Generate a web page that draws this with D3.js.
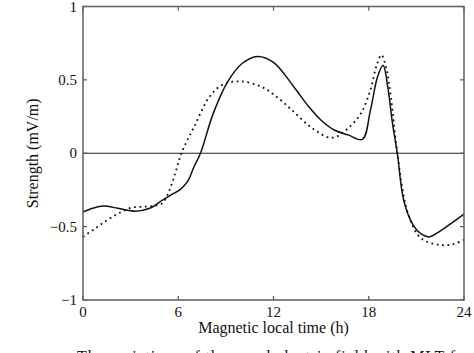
<!DOCTYPE html>
<html>
<head>
<meta charset="utf-8">
<script src="https://cdn.jsdelivr.net/npm/d3@7"></script>
<style>
  body { margin: 0; background: #fff; }
  svg { display: block; font-family: "Liberation Serif", "Times New Roman", serif; }
  .tick-label { font-size: 15px; fill: #111; }
  .axis-title { font-size: 16px; fill: #111; }
</style>
</head>
<body>
<div id="chart"></div>
<script>
// values (time in h, strength in mV/m)
let solidTime = [0, 0.6, 1.3, 2.2, 3.3, 4.2, 5.0, 5.6, 6.1, 6.6, 7.0, 7.4, 8.2, 9.1, 10.0, 11.0, 12.0, 13.3, 14.2, 15.0, 15.8, 16.7, 17.6, 18.1, 18.55, 18.9, 19.2, 19.5, 19.8, 20.2, 20.8, 21.3, 21.8, 22.5, 23.3, 24];
let solidValue = [-0.40, -0.375, -0.36, -0.375, -0.395, -0.375, -0.32, -0.28, -0.25, -0.19, -0.09, 0.0, 0.27, 0.485, 0.61, 0.66, 0.62, 0.45, 0.32, 0.225, 0.16, 0.125, 0.095, 0.29, 0.52, 0.60, 0.45, 0.2, 0.0, -0.32, -0.49, -0.55, -0.57, -0.53, -0.47, -0.415];

let dottedTime = [0, 0.8, 1.6, 2.4, 3.1, 3.8, 4.4, 5.0, 5.3, 5.8, 6.2, 7.0, 8.0, 8.85, 9.9, 11.2, 12.25, 13.3, 14.2, 14.8, 15.4, 15.9, 16.7, 17.5, 18.1, 18.5, 18.8, 19.1, 19.4, 19.8, 20.5, 21.3, 22.5, 23.3, 24];
let dottedValue = [-0.57, -0.51, -0.45, -0.40, -0.37, -0.365, -0.36, -0.34, -0.29, -0.14, 0.0, 0.18, 0.39, 0.47, 0.49, 0.455, 0.38, 0.28, 0.19, 0.145, 0.11, 0.11, 0.17, 0.27, 0.43, 0.6, 0.67, 0.58, 0.38, 0.0, -0.42, -0.58, -0.625, -0.62, -0.59];

let xTicks = [0, 6, 12, 18, 24];
let yTicks = [-1, -0.5, 0, 0.5, 1];
let yTickLabels = ['\u22121', '\u22120.5', '0', '0.5', '1'];

let margin = {top: 6.5, right: 10, bottom: 53, left: 83};
let W = 474, H = 353;
let width = W - margin.left - margin.right;
let height = H - margin.top - margin.bottom;

let svg = d3.select('#chart').append('svg')
    .attr('width', W)
    .attr('height', H);

let g = svg.append('g')
    .attr('transform', 'translate(' + margin.left + ',' + margin.top + ')');

let x = d3.scaleLinear().domain([0, 24]).range([0, width]);
let y = d3.scaleLinear().domain([-1, 1]).range([height, 0]);

// zero line
g.append('line')
    .attr('x1', 0).attr('x2', width)
    .attr('y1', y(0)).attr('y2', y(0))
    .attr('stroke', '#222')
    .attr('stroke-width', 1.2);

let line = d3.line()
    .x(function(d) { return x(d[0]); })
    .y(function(d) { return y(d[1]); })
    .curve(d3.curveCatmullRom.alpha(0.5));

g.append('path')
    .datum(dottedTime.map(function(t, i) { return [t, dottedValue[i]]; }))
    .attr('fill', 'none')
    .attr('stroke', '#111')
    .attr('stroke-width', 1.8)
    .attr('stroke-dasharray', '1.8,3.6')
    .attr('d', line);

g.append('path')
    .datum(solidTime.map(function(t, i) { return [t, solidValue[i]]; }))
    .attr('fill', 'none')
    .attr('stroke', '#111')
    .attr('stroke-width', 1.5)
    .attr('d', line);

// ticks, inward on all four sides
let tickLen = 4;
let tk = g.append('g').attr('stroke', '#555').attr('stroke-width', 1.2);
xTicks.forEach(function(t) {
    tk.append('line').attr('x1', x(t)).attr('x2', x(t)).attr('y1', height).attr('y2', height - tickLen);
    tk.append('line').attr('x1', x(t)).attr('x2', x(t)).attr('y1', 0).attr('y2', tickLen);
});
yTicks.forEach(function(v) {
    tk.append('line').attr('x1', 0).attr('x2', tickLen).attr('y1', y(v)).attr('y2', y(v));
    tk.append('line').attr('x1', width).attr('x2', width - tickLen).attr('y1', y(v)).attr('y2', y(v));
});

// frame
g.append('rect')
    .attr('width', width).attr('height', height)
    .attr('fill', 'none')
    .attr('stroke', '#666')
    .attr('stroke-width', 1.6);

// tick labels
g.selectAll('.xl').data(xTicks).enter().append('text')
    .attr('class', 'tick-label')
    .attr('x', function(d) { return x(d); })
    .attr('y', height + 17)
    .attr('text-anchor', 'middle')
    .text(function(d) { return d; });

g.selectAll('.yl').data(yTicks).enter().append('text')
    .attr('class', 'tick-label')
    .attr('x', -6)
    .attr('y', function(d) { return y(d) + 5; })
    .attr('text-anchor', 'end')
    .text(function(d, i) { return yTickLabels[i]; });

// axis titles
g.append('text')
    .attr('class', 'axis-title')
    .attr('x', width / 2)
    .attr('y', height + 33)
    .attr('text-anchor', 'middle')
    .text('Magnetic local time (h)');

g.append('text')
    .attr('class', 'axis-title')
    .attr('transform', 'translate(' + (-45) + ',' + (y(0)) + ') rotate(-90)')
    .attr('text-anchor', 'middle')
    .text('Strength (mV/m)');

// caption, cut off by the bottom edge
svg.append('text')
    .attr('class', 'axis-title')
    .attr('x', 77)
    .attr('y', 362)
    .attr('textLength', 393)
    .text('The variations of the zonal electric field with MLT for');
</script>
</body>
</html>
